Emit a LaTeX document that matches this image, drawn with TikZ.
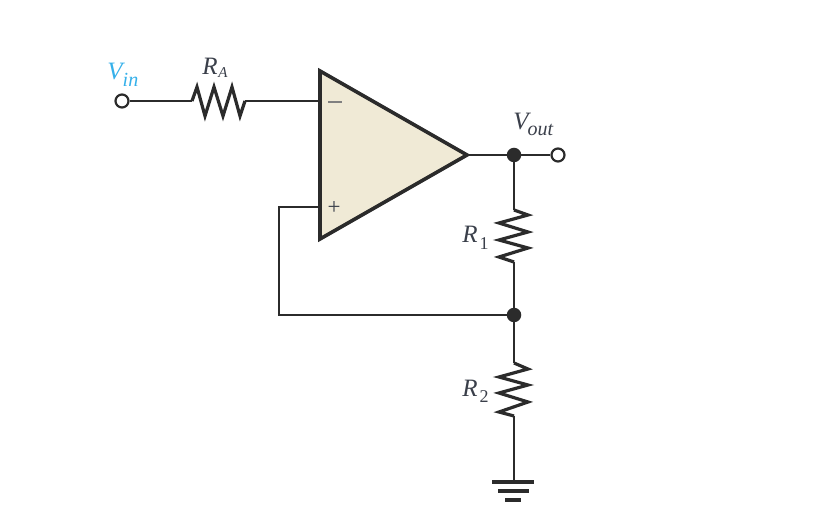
\documentclass[tikz,border=0pt]{standalone}
\usepackage{fontspec}
\setmainfont{Liberation Serif}
\definecolor{wire}{HTML}{2B2B2B}
\definecolor{opfill}{HTML}{F0EAD6}
\definecolor{vinblue}{HTML}{35B0EA}
\definecolor{lab}{HTML}{3A3F4A}
\begin{document}
\begin{tikzpicture}[x=1pt,y=-1pt,
  wireline/.style={draw=wire,line width=2.7pt,line join=miter},
  res/.style={draw=wire,line width=3.2pt,line join=miter},
  term/.style={circle,draw=wire,fill=white,line width=2.2pt,inner sep=0pt,minimum size=13pt},
  junction/.style={circle,fill=wire,inner sep=0pt,minimum size=14.5pt},
  lbl/.style={inner sep=0pt,text=lab,font=\fontsize{25}{25}\selectfont\itshape},
  sub/.style={inner sep=0pt,text=lab,font=\fontsize{20}{20}\selectfont\itshape},
  gnd/.style={draw=wire,line width=4.4pt}]
\useasboundingbox (0,0) rectangle (820,526);
\fill[white] (0,0) rectangle (820,526);
% op amp vertices
\coordinate (opA) at (320,71);
\coordinate (opB) at (320,239);
\coordinate (opO) at (467,155);
\coordinate (opM) at (320,101);
\coordinate (opP) at (320,207);
% terminals and junctions
\node[term] (vin) at (122,101) {};
\node[term] (vout) at (558,155) {};
\coordinate (jtop) at (514,155);
\coordinate (jmid) at (514,315);
\coordinate (fbc) at (279,207);
\coordinate (fbd) at (279,315);
% resistor ends
\coordinate (raL) at (192,101);
\coordinate (raR) at (245,101);
\coordinate (r1T) at (514,210);
\coordinate (r1B) at (514,262);
\coordinate (r2T) at (514,363);
\coordinate (r2B) at (514,416);
\coordinate (gt) at (514,482);
% wires
\draw[wireline] (vin) -- (raL);
\draw[wireline] (raR) -- (opM);
\draw[wireline] (opO) -- (jtop) -- (vout);
\draw[wireline] (jtop) -- (r1T);
\draw[wireline] (r1B) -- (jmid) -- (r2T);
\draw[wireline] (r2B) -- (gt);
\draw[wireline] (opP) -- (fbc) -- (fbd) -- (jmid);
% resistors
\draw[res] (raL) -- (197,87) -- (205,116) -- (214,87) -- (223,116) -- (232,87) -- (240,116) -- (raR);
\draw[res] (r1T) -- (528,215) -- (499,223) -- (528,232) -- (499,240) -- (528,248) -- (499,257) -- (r1B);
\draw[res] (r2T) -- (528,369) -- (499,377) -- (528,385) -- (499,393) -- (528,402) -- (499,412) -- (r2B);
% op amp
\draw[draw=wire,fill=opfill,line width=3.6pt,line join=miter] (opA) -- (opO) -- (opB) -- cycle;
\node[inner sep=0pt,text=gray] (minus) at (335,102) {\rule{14pt}{1.8pt}};
\node[inner sep=0pt,text=lab,font=\fontsize{23}{23}\selectfont] (plus) at (334,208) {+};
% dots
\node[junction] (dtop) at (jtop) {};
\node[junction] (dmid) at (jmid) {};
% ground
\draw[gnd] (492,482) -- (534,482);
\draw[gnd] (498,491) -- (529,491);
\draw[gnd] (505,500) -- (521,500);
% labels
\node[lbl,text=vinblue] (tv) at (115,72) {V};
\node[sub,text=vinblue] (tin) at (130.5,79.5) {in};
\node[lbl] (tr) at (210,66) {R};
\node[sub,font=\fontsize{15}{15}\selectfont\itshape] (ta) at (223,73) {A};
\node[lbl] (tvo) at (521,122) {V};
\node[sub] (tout) at (540.5,130) {out};
\node[lbl] (tr1) at (470,234) {R};
\node[sub,font=\fontsize{18}{18}\selectfont\upshape] (t1) at (484,244) {1};
\node[lbl] (tr2) at (470,388) {R};
\node[sub,font=\fontsize{18}{18}\selectfont\upshape] (t2) at (484,397) {2};
\end{tikzpicture}
\end{document}
